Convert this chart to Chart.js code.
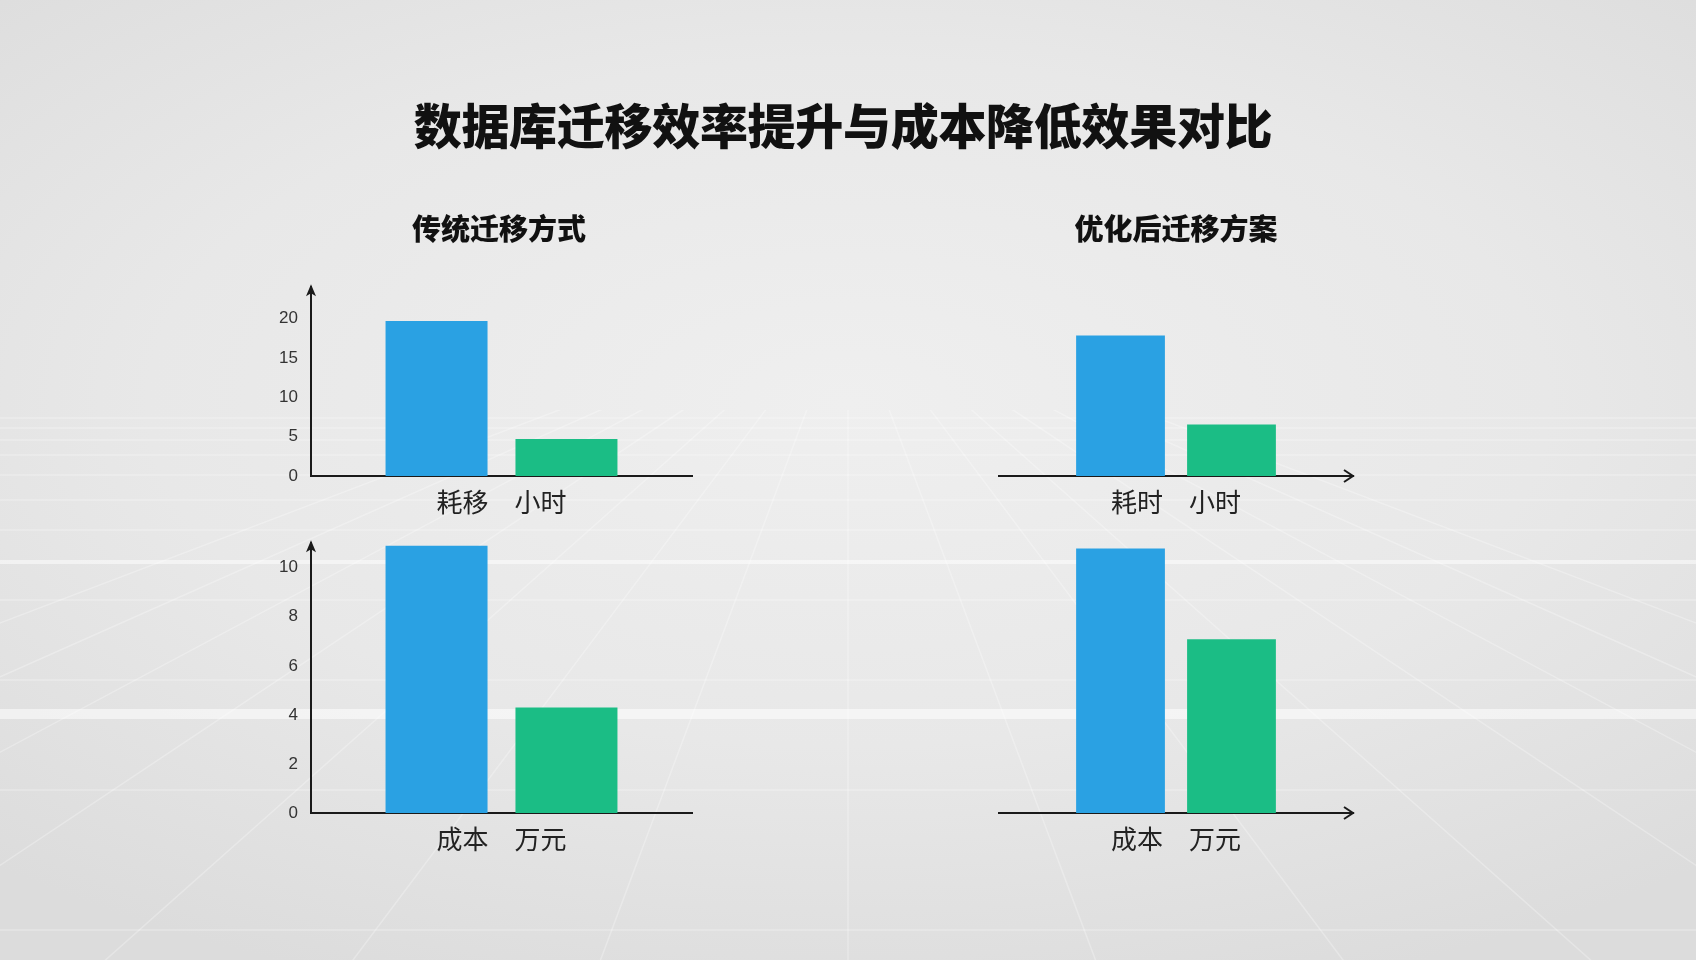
<!DOCTYPE html>
<html lang="zh-CN">
<head>
<meta charset="utf-8">
<title>数据库迁移效率提升与成本降低效果对比</title>
<script src="https://cdn.jsdelivr.net/npm/chart.js@4.4.1/dist/chart.umd.min.js"></script>
<style>
  html, body { margin: 0; padding: 0; }
  body {
    width: 1696px; height: 960px; overflow: hidden; position: relative;
    font-family: "Noto Sans CJK SC", "Noto Sans", sans-serif;
    background: radial-gradient(ellipse 75% 65% at 50% 42%, #efefef 0%, #e8e8e8 55%, #dcdcdc 100%);
  }
  #fondo { position: absolute; left: 0; top: 0; }
  .titulo { position: absolute; text-align: center; font-weight: 900; color: #111; white-space: nowrap; }
  #t0 { left: 0; width: 1686px; top: 93px; font-size: 48px; line-height: 60px; letter-spacing: -0.3px; }
  #t1 { left: 299px; width: 400px; top: 207px; font-size: 29px; line-height: 40px; }
  #t2 { left: 976px; width: 400px; top: 207px; font-size: 29px; line-height: 40px; }
  .caja { position: absolute; }
  #c1 { left: 230px; top: 264px; width: 480px; height: 256px; }
  #c2 { left: 230px; top: 520px; width: 480px; height: 337px; }
  #c3 { left: 989px; top: 264px; width: 374px; height: 256px; }
  #c4 { left: 989px; top: 520px; width: 374px; height: 337px; }
</style>
</head>
<body>
<canvas id="fondo" width="1696" height="960"></canvas>
<div class="titulo" id="t0">数据库迁移效率提升与成本降低效果对比</div>
<div class="titulo" id="t1">传统迁移方式</div>
<div class="titulo" id="t2">优化后迁移方案</div>
<div class="caja" id="c1"><canvas id="g1"></canvas></div>
<div class="caja" id="c2"><canvas id="g2"></canvas></div>
<div class="caja" id="c3"><canvas id="g3"></canvas></div>
<div class="caja" id="c4"><canvas id="g4"></canvas></div>
<script>
// datos (barra azul, barra verde)
var etiquetaTiempoTrad = ['耗移\u3000小时'];
var etiquetaTiempoOpt = ['耗时\u3000小时'];
var etiquetaCosto = ['成本\u3000万元'];

var tiempoTrad = [19.7, 4.7];
var tiempoOpt = [17.2, 6.3];
var costoTrad = [10.9, 4.3];
var costoOpt = [10.5, 6.9];

var ticksTiempo = [0, 5, 10, 15, 20];
var ticksCosto = [0, 2, 4, 6, 8, 10];
var maxTiempo = 24;
var maxCosto = 11;

var azul = '#2aa1e3';
var verde = '#1bbd85';
var negro = '#1a1a1a';

// fondo: rejilla en perspectiva muy suave
function dibujarFondo() {
  var c = document.getElementById('fondo').getContext('2d');
  var vx = 848, vy = 300;
  c.save();
  c.beginPath();
  c.rect(0, 410, 1696, 550);
  c.clip();
  c.strokeStyle = 'rgba(255,255,255,0.28)';
  c.lineWidth = 1.5;
  for (var i = -7; i <= 7; i++) {
    c.beginPath();
    c.moveTo(vx, vy);
    c.lineTo(vx + i * 300, 1100);
    c.stroke();
  }
  var filas = [418, 428, 440, 455, 475, 500, 530, 600, 680, 790, 930];
  for (var j = 0; j < filas.length; j++) {
    c.beginPath();
    c.moveTo(0, filas[j]);
    c.lineTo(1696, filas[j]);
    c.stroke();
  }
  c.restore();
  // bandas claras
  c.fillStyle = 'rgba(255,255,255,0.5)';
  c.fillRect(0, 560, 1696, 4);
  c.fillStyle = 'rgba(255,255,255,0.55)';
  c.fillRect(0, 709, 1696, 10);
}
dibujarFondo();

// flechas de los ejes
var flecha = {
  id: 'flecha',
  afterDraw: function (chart, args, opts) {
    var ctx = chart.ctx;
    var a = chart.chartArea;
    ctx.save();
    ctx.strokeStyle = negro;
    ctx.fillStyle = negro;
    ctx.lineWidth = 2;
    if (opts.tipo === 'y') {
      var x = a.left, y = a.top;
      ctx.beginPath();
      ctx.moveTo(x, y - 3);
      ctx.lineTo(x - 5, y + 9);
      ctx.lineTo(x, y + 6);
      ctx.lineTo(x + 5, y + 9);
      ctx.closePath();
      ctx.fill();
    } else if (opts.tipo === 'x') {
      var x2 = a.right, y2 = a.bottom;
      ctx.beginPath();
      ctx.moveTo(x2 - 9, y2 - 6);
      ctx.lineTo(x2, y2);
      ctx.lineTo(x2 - 9, y2 + 6);
      ctx.stroke();
    }
    ctx.restore();
  }
};

function crearGrafico(id, etiquetas, valores, ticks, max, lado) {
  var izq = lado === 'izq';
  var ctx = document.getElementById(id).getContext('2d');
  return new Chart(ctx, {
    type: 'bar',
    data: {
      labels: etiquetas,
      datasets: [
        {
          data: [valores[0]],
          backgroundColor: azul,
          barPercentage: izq ? 0.785 : 0.80,
          categoryPercentage: izq ? 0.682 : 0.627
        },
        {
          data: [valores[1]],
          backgroundColor: verde,
          barPercentage: izq ? 0.785 : 0.80,
          categoryPercentage: izq ? 0.682 : 0.627
        }
      ]
    },
    options: {
      responsive: true,
      maintainAspectRatio: false,
      devicePixelRatio: 1,
      animation: false,
      layout: {
        padding: izq ? { top: 16, right: 18, left: 0, bottom: 0 } : { top: 16, right: 10, left: 10, bottom: 0 }
      },
      plugins: {
        legend: { display: false },
        tooltip: { enabled: false },
        flecha: { tipo: izq ? 'y' : 'x' }
      },
      scales: {
        x: {
          z: 1,
          grid: { display: false, drawTicks: false },
          border: { display: true, color: negro, width: 2 },
          ticks: {
            color: '#222',
            padding: 11,
            font: { family: '"Noto Sans CJK SC"', size: 26 }
          },
          afterFit: function (s) { s.height = 44; }
        },
        y: {
          display: izq,
          min: 0,
          max: max,
          z: 1,
          grid: { display: false, drawTicks: false },
          border: { display: true, color: negro, width: 2 },
          ticks: {
            color: '#333',
            padding: 13,
            font: { family: '"Liberation Sans"', size: 17 }
          },
          afterBuildTicks: function (s) {
            s.ticks = ticks.map(function (v) { return { value: v }; });
          },
          afterFit: function (s) { if (izq) { s.width = 81; } }
        }
      }
    },
    plugins: [flecha]
  });
}

crearGrafico('g1', etiquetaTiempoTrad, tiempoTrad, ticksTiempo, maxTiempo, 'izq');
crearGrafico('g2', etiquetaCosto, costoTrad, ticksCosto, maxCosto, 'izq');
crearGrafico('g3', etiquetaTiempoOpt, tiempoOpt, ticksTiempo, maxTiempo, 'der');
crearGrafico('g4', etiquetaCosto, costoOpt, ticksCosto, maxCosto, 'der');
</script>
</body>
</html>
